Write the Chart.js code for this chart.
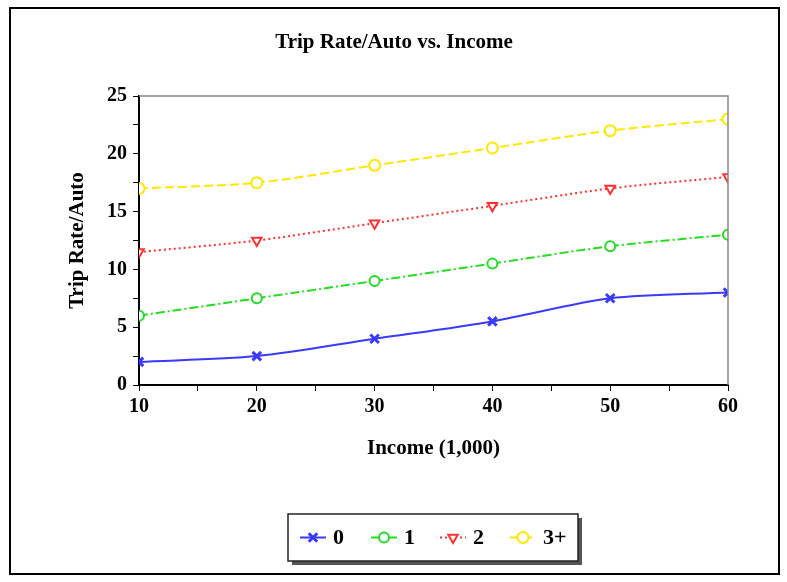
<!DOCTYPE html>
<html><head><script src="https://cdn.jsdelivr.net/npm/chart.js@4"></script>
<style>body{margin:0;background:#fff}#f{position:absolute;left:9px;top:7px;width:767px;height:564px;border:2px solid #000;}</style></head>
<body><div id="f"><canvas id="c" width="767" height="564"></canvas></div>
<script>
const incomes=[10,20,30,40,50,60];
const s0=[2,2.5,4,5.5,7.5,8];
const s1=[6,7.5,9,10.5,12,13];
const s2=[11.5,12.5,14,15.5,17,18];
const s3=[17,17.5,19,20.5,22,23];
const names=['0','1','2','3+'];
const F='"Liberation Serif", "DejaVu Serif", serif';
const pts=a=>a.map((y,i)=>({x:incomes[i],y}));
const ds=[
 {label:names[0],data:pts(s0),borderColor:'#3a3aff',backgroundColor:'#3a3aff',pointStyle:'crossRot',pointRadius:6,pointBorderWidth:3,borderDash:[]},
 {label:names[1],data:pts(s1),borderColor:'#22dd22',backgroundColor:'#fff',pointStyle:'circle',pointRadius:5,borderDash:[9,3,2,3]},
 {label:names[2],data:pts(s2),borderColor:'#ff3030',backgroundColor:'#fff',pointStyle:'triangle',rotation:180,pointRadius:5.5,borderDash:[2,3]},
 {label:names[3],data:pts(s3),borderColor:'#ffe800',backgroundColor:'#fff',pointStyle:'circle',pointRadius:5.5,borderDash:[9,4]}
].map(d=>Object.assign({borderWidth:2,pointBorderWidth:2,tension:0.3},d));
const deco={id:'deco',afterDraw(ch){
 const c=ch.ctx,a=ch.chartArea;
 c.save();c.strokeStyle='#888';c.lineWidth=1.5;
 c.beginPath();c.moveTo(a.left,a.top);c.lineTo(a.right,a.top);c.lineTo(a.right,a.bottom);c.stroke();
 c.fillStyle='#000';c.font='bold 21px '+F;c.textAlign='center';c.textBaseline='middle';
 c.fillText('Trip Rate/Auto vs. Income',383,34);
 c.textAlign='left';
 const lx=277,ly=505,lw=290,lh=47;
 c.fillStyle='#555';c.fillRect(lx+4,ly+4,lw,lh);
 c.fillStyle='#fff';c.fillRect(lx,ly,lw,lh);
 c.strokeStyle='#222';c.lineWidth=1.5;c.strokeRect(lx,ly,lw,lh);
 const xs=[lx+12,lx+83,lx+152,lx+222];
 ds.forEach((d,i)=>{
  const x=xs[i],y=ly+lh/2;
  c.strokeStyle=d.borderColor;c.lineWidth=2;c.setLineDash(d.borderDash);
  c.beginPath();c.moveTo(x,y);c.lineTo(x+26,y);c.stroke();c.setLineDash([]);
  c.fillStyle=d.backgroundColor;c.strokeStyle=d.borderColor;c.lineWidth=d.pointBorderWidth;
  Chart.helpers.drawPoint(c,{pointStyle:d.pointStyle,rotation:d.rotation||0,radius:d.pointRadius,borderWidth:d.pointBorderWidth},x+13,y);
  c.fillStyle='#000';c.font='bold 22px '+F;c.textBaseline='middle';c.fillText(d.label,x+33,y+1);
 });
 c.restore();
}};
new Chart(document.getElementById('c'),{type:'line',data:{datasets:ds},plugins:[deco],
options:{responsive:false,animation:false,
 layout:{padding:{left:50,right:50,top:87,bottom:108}},
 plugins:{legend:{display:false},title:{display:false},tooltip:{enabled:false}},
 scales:{
  x:{type:'linear',min:10,max:60,afterFit:s=>{s.height=80},
   afterBuildTicks:s=>{s.ticks=[10,15,20,25,30,35,40,45,50,55,60].map(v=>({value:v}))},
   ticks:{color:'#000',font:{family:F,size:20,weight:'bold'},padding:4,callback:v=>v%10===0?v:''},
   grid:{color:'rgba(0,0,0,0)',tickColor:'#000',tickLength:6,drawOnChartArea:false},border:{color:'#000',width:2},
   title:{display:true,text:'Income (1,000)',color:'#000',font:{family:F,size:21,weight:'bold'},padding:{top:2}}},
  y:{min:0,max:25,afterFit:s=>{s.width=78},
   afterBuildTicks:s=>{s.ticks=[0,2.5,5,7.5,10,12.5,15,17.5,20,22.5,25].map(v=>({value:v}))},
   ticks:{color:'#000',font:{family:F,size:20,weight:'bold'},padding:6,callback:v=>v%5===0?v:''},
   grid:{color:'rgba(0,0,0,0)',tickColor:'#000',tickLength:6,drawOnChartArea:false},border:{color:'#000',width:2},
   title:{display:true,text:'Trip Rate/Auto',color:'#000',font:{family:F,size:21,weight:'bold'}}}
 }}});
</script></body></html>
